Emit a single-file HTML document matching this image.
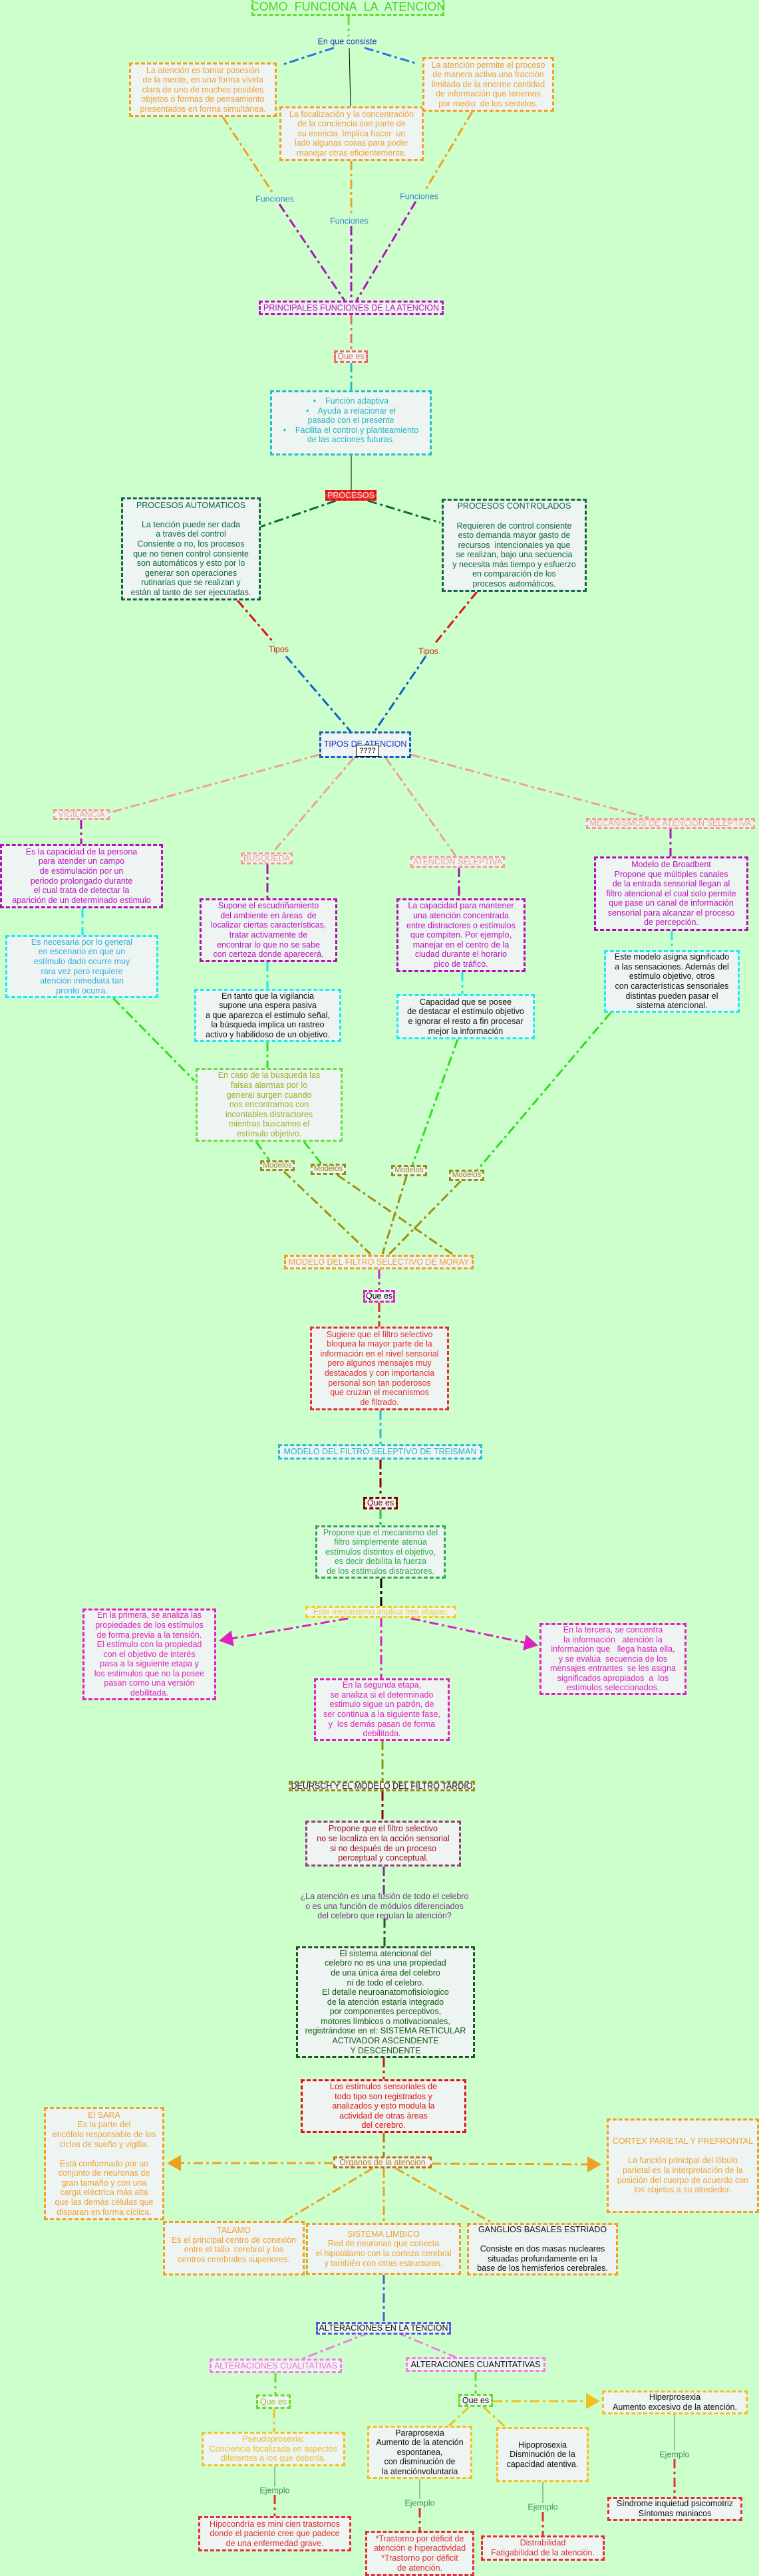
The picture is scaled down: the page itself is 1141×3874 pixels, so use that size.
<!DOCTYPE html>
<html><head><meta charset="utf-8">
<style>
html,body{margin:0;padding:0}
body{width:1141px;height:3874px;background:#ccffcc;position:relative;overflow:hidden;font-family:"Liberation Sans",sans-serif}
.n{position:absolute;box-sizing:border-box;border:3px dashed;background:#eef4f2;display:flex;align-items:center;justify-content:center;text-align:center;font-size:12.5px;line-height:14.6px;white-space:nowrap;overflow:visible}
.l{position:absolute;transform:translate(-50%,-50%);font-size:12.5px;line-height:14.6px;white-space:nowrap;text-align:center}
svg{position:absolute;left:0;top:0}
</style></head><body>
<svg width="1141" height="3874" viewBox="0 0 1141 3874">
<defs>
<marker id="am" markerWidth="8" markerHeight="8" refX="6" refY="4" orient="auto" markerUnits="strokeWidth"><path d="M0,0 L7,4 L0,8z" fill="#e020c0"/></marker>
<marker id="ao" markerWidth="8" markerHeight="8" refX="6" refY="4" orient="auto" markerUnits="strokeWidth"><path d="M0,0 L7,4 L0,8z" fill="#f0a020"/></marker>
<marker id="ay" markerWidth="8" markerHeight="8" refX="6" refY="4" orient="auto" markerUnits="strokeWidth"><path d="M0,0 L7,4 L0,8z" fill="#f0c020"/></marker>
</defs>
<g stroke-width="3" stroke-dasharray="14 5 4 5" fill="none">
<line x1="524" y1="24" x2="524" y2="55" stroke="#66dd33"/>
<line x1="502" y1="72" x2="422" y2="98" stroke="#3070e0"/>
<line x1="548" y1="72" x2="628" y2="96" stroke="#3070e0"/>
<line x1="335" y1="176" x2="412" y2="293" stroke="#f0a020"/>
<line x1="528" y1="242" x2="528" y2="325" stroke="#f0a020"/>
<line x1="710" y1="168" x2="638" y2="288" stroke="#f0a020"/>
<line x1="420" y1="307" x2="518" y2="452" stroke="#b010c0"/>
<line x1="528" y1="340" x2="528" y2="452" stroke="#b010c0"/>
<line x1="625" y1="303" x2="536" y2="452" stroke="#b010c0"/>
<line x1="528" y1="474" x2="528" y2="527" stroke="#e87060"/>
<line x1="528" y1="546" x2="528" y2="587" stroke="#20c0c0"/>
<line x1="505" y1="753" x2="392" y2="792" stroke="#0a6a3a"/>
<line x1="553" y1="753" x2="662" y2="786" stroke="#0a6a3a"/>
<line x1="357" y1="903" x2="412" y2="967" stroke="#e01010"/>
<line x1="717" y1="890" x2="652" y2="970" stroke="#e01010"/>
<line x1="430" y1="987" x2="527" y2="1100" stroke="#1060c0"/>
<line x1="640" y1="987" x2="563" y2="1100" stroke="#1060c0"/>
<line x1="480" y1="1135" x2="165" y2="1222" stroke="#f0a090"/>
<line x1="532" y1="1140" x2="410" y2="1282" stroke="#f0a090"/>
<line x1="580" y1="1140" x2="685" y2="1287" stroke="#f0a090"/>
<line x1="618" y1="1135" x2="975" y2="1230" stroke="#f0a090"/>
<line x1="122" y1="1233" x2="122" y2="1269" stroke="#b010b0"/>
<line x1="402" y1="1300" x2="402" y2="1351" stroke="#b010b0"/>
<line x1="690" y1="1305" x2="690" y2="1351" stroke="#b010b0"/>
<line x1="1008" y1="1247" x2="1008" y2="1288" stroke="#b010b0"/>
<line x1="124" y1="1366" x2="124" y2="1406" stroke="#20e8f0"/>
<line x1="402" y1="1447" x2="402" y2="1487" stroke="#20e8f0"/>
<line x1="695" y1="1462" x2="695" y2="1495" stroke="#20e8f0"/>
<line x1="1010" y1="1400" x2="1010" y2="1429" stroke="#20e8f0"/>
<line x1="170" y1="1501" x2="292" y2="1625" stroke="#30dd20"/>
<line x1="402" y1="1567" x2="402" y2="1606" stroke="#30dd20"/>
<line x1="688" y1="1563" x2="620" y2="1752" stroke="#30dd20"/>
<line x1="918" y1="1523" x2="718" y2="1759" stroke="#30dd20"/>
<line x1="385" y1="1717" x2="405" y2="1745" stroke="#30dd20"/>
<line x1="457" y1="1717" x2="483" y2="1750" stroke="#30dd20"/>
<line x1="427" y1="1762" x2="557" y2="1886" stroke="#a09010"/>
<line x1="507" y1="1767" x2="680" y2="1886" stroke="#a09010"/>
<line x1="611" y1="1769" x2="575" y2="1886" stroke="#a09010"/>
<line x1="693" y1="1776" x2="585" y2="1886" stroke="#a09010"/>
<line x1="570" y1="1909" x2="570" y2="1940" stroke="#e020c0"/>
<line x1="570" y1="1959" x2="570" y2="1995" stroke="#e03030"/>
<line x1="572" y1="2121" x2="572" y2="2172" stroke="#20c0d0"/>
<line x1="572" y1="2195" x2="572" y2="2251" stroke="#800000"/>
<line x1="572" y1="2270" x2="572" y2="2294" stroke="#20c040"/>
<line x1="573" y1="2374" x2="573" y2="2415" stroke="#000"/>
<line x1="573" y1="2433" x2="573" y2="2524" stroke="#e020c0"/>
<line x1="523" y1="2434" x2="332" y2="2467" stroke="#e020c0" marker-end="url(#am)"/>
<line x1="618" y1="2434" x2="806" y2="2474" stroke="#e020c0" marker-end="url(#am)"/>
<line x1="575" y1="2618" x2="575" y2="2678" stroke="#909010"/>
<line x1="575" y1="2694" x2="575" y2="2738" stroke="#900000"/>
<line x1="577" y1="2807" x2="577" y2="2850" stroke="#803090"/>
<line x1="578" y1="2885" x2="578" y2="2927" stroke="#106010"/>
<line x1="577" y1="3095" x2="577" y2="3127" stroke="#e01010"/>
<line x1="577" y1="3208" x2="577" y2="3243" stroke="#c07010"/>
<line x1="501" y1="3253" x2="254" y2="3253" stroke="#f0a020" marker-end="url(#ao)"/>
<line x1="649" y1="3254" x2="901" y2="3255" stroke="#f0a020" marker-end="url(#ao)"/>
<line x1="560" y1="3261" x2="428" y2="3340" stroke="#f0a020"/>
<line x1="577" y1="3261" x2="577" y2="3343" stroke="#f0a020"/>
<line x1="595" y1="3261" x2="740" y2="3343" stroke="#f0a020"/>
<line x1="577" y1="3421" x2="577" y2="3492" stroke="#5060d0"/>
<line x1="555" y1="3508" x2="455" y2="3547" stroke="#f080e0"/>
<line x1="597" y1="3508" x2="685" y2="3545" stroke="#f080e0"/>
<line x1="414" y1="3569" x2="414" y2="3601" stroke="#60e020"/>
<line x1="715" y1="3567" x2="715" y2="3600" stroke="#60e020"/>
<line x1="412" y1="3623" x2="412" y2="3657" stroke="#f0c020"/>
<line x1="705" y1="3620" x2="675" y2="3648" stroke="#f0c020"/>
<line x1="727" y1="3620" x2="760" y2="3650" stroke="#f0c020"/>
<line x1="741" y1="3611" x2="899" y2="3611" stroke="#f0c020" marker-end="url(#ay)"/>
<line x1="413" y1="3752" x2="413" y2="3784" stroke="#e03030"/>
<line x1="631" y1="3772" x2="631" y2="3806" stroke="#e03030"/>
<line x1="816" y1="3778" x2="816" y2="3813" stroke="#e03030"/>
<line x1="1014" y1="3698" x2="1014" y2="3755" stroke="#e03030"/>
</g>
<g stroke-width="1" fill="none">
<line x1="525" y1="72" x2="527" y2="160" stroke="#000"/>
<line x1="528" y1="685" x2="528" y2="737" stroke="#000"/>
<line x1="413" y1="3709" x2="413" y2="3740" stroke="#409060"/>
<line x1="631" y1="3728" x2="631" y2="3758" stroke="#409060"/>
<line x1="816" y1="3733" x2="816" y2="3764" stroke="#409060"/>
<line x1="1014" y1="3631" x2="1014" y2="3685" stroke="#409060"/>
</g>
</svg>

<div class="n" style="left:378px;top:-3px;width:290px;height:27px;border-color:#66dd33;color:#55cc33;font-size:18px;background:#ccffcc">COMO&nbsp; FUNCIONA&nbsp; LA&nbsp; ATENCION</div>
<div class="l" style="left:522px;top:63px;color:#1a3fbf">En que consiste</div>
<div class="n" style="left:194px;top:94px;width:222px;height:82px;border-color:#f0a020;color:#f0a030">La atención es tomar posesión<br>de la mente, en una forma vivida<br>clara de uno de muchos posibles<br>objetos o formas de pensamiento<br>presentados en forma simultánea.</div>
<div class="n" style="left:420px;top:160px;width:217px;height:82px;border-color:#f0a020;color:#f0a030">La focalización y la concentración<br>de la conciencia son parte de<br>su esencia. Implica hacer&nbsp; un<br>lado algunas cosas para poder<br>manejar otras eficientemente.</div>
<div class="n" style="left:635px;top:86px;width:198px;height:82px;border-color:#f0a020;color:#f0a030">La atención permite el proceso<br>de manera activa una fracción<br>limitada de la enorme cantidad<br>de información que tenemos<br>por medio&nbsp; de los sentidos.</div>
<div class="l" style="left:413px;top:300px;color:#3a7fd0">Funciones</div>
<div class="l" style="left:525px;top:333px;color:#3a7fd0">Funciones</div>
<div class="l" style="left:630px;top:296px;color:#3a7fd0">Funciones</div>

<div class="n" style="left:389px;top:452px;width:278px;height:22px;border-color:#c010c0;color:#c010c0">PRINCIPALES FUNCIONES DE LA ATENCION</div>
<div class="n" style="left:502px;top:527px;width:51px;height:19px;border-color:#e87060;color:#e87060">Que es</div>
<div class="n" style="left:406px;top:587px;width:243px;height:98px;border-color:#20c0c0;color:#20b8c0;align-items:flex-start;padding-top:6px">•&nbsp;&nbsp;&nbsp; Función adaptiva<br>•&nbsp;&nbsp;&nbsp; Ayuda a relacionar el<br>pasado con el presente<br>•&nbsp;&nbsp;&nbsp; Facilita el control y planteamiento<br>de las acciones futuras.</div>
<div class="n" style="left:489px;top:737px;width:77px;height:16px;border-color:#dd1111;background:#ee3333;color:#ffdddd">PROCESOS</div>
<div class="n" style="left:182px;top:748px;width:210px;height:155px;border-color:#0a6a3a;color:#0a6a3a">PROCESOS AUTOMATICOS<br><br>La tención puede ser dada<br>a través del control<br>Consiente o no, los procesos<br>que no tienen control consiente<br>son automáticos y esto por lo<br>generar son operaciones<br>rutinarias que se realizan y<br>están al tanto de ser ejecutadas.</div>
<div class="n" style="left:664px;top:750px;width:218px;height:140px;border-color:#0a6a3a;color:#0a6a3a">PROCESOS CONTROLADOS<br><br>Requieren de control consiente<br>esto demanda mayor gasto de<br>recursos&nbsp; intencionales ya que<br>se realizan, bajo una secuencia<br>y necesita más tiempo y esfuerzo<br>en comparación de los<br>procesos automáticos.</div>
<div class="l" style="left:419px;top:977px;color:#d02010">Tipos</div>
<div class="l" style="left:644px;top:980px;color:#d02010">Tipos</div>
<div class="n" style="left:480px;top:1100px;width:138px;height:40px;border-color:#1060c0;color:#2030d0;align-items:flex-start;padding-top:9px">TIPOS DE ATENCION</div>
<div class="n" style="left:535px;top:1120px;width:35px;height:18px;border:1px solid #000;background:#fff;color:#000;font-size:11px">????</div>

<div class="n" style="left:80px;top:1217px;width:85px;height:16px;border-color:#f0a090;color:#f0a090">VIGILANCIA</div>
<div class="n" style="left:362px;top:1282px;width:78px;height:18px;border-color:#f0a090;color:#f0a090">BUSQUEDA</div>
<div class="n" style="left:617px;top:1287px;width:142px;height:18px;border-color:#f0a090;color:#f0a090">ATENCION SELEPTIVA</div>
<div class="n" style="left:881px;top:1230px;width:254px;height:17px;border-color:#f0a090;color:#f0a090">MECANISMOS DE ATENCION SELEPTIVA</div>
<div class="n" style="left:0px;top:1269px;width:245px;height:97px;border-color:#b010b0;color:#c010c0">Es la capacidad de la persona<br>para atender un campo<br>de estimulación por un<br>periodo prolongado durante<br>el cual trata de detectar la<br>aparición de un determinado estimulo</div>
<div class="n" style="left:300px;top:1351px;width:207px;height:96px;border-color:#b010b0;color:#c010c0">Supone el escudriñamiento<br>del ambiente en áreas&nbsp; de<br>localizar ciertas características,<br>tratar activamente de<br>encontrar lo que no se sabe<br>con certeza donde aparecerá.</div>
<div class="n" style="left:596px;top:1351px;width:194px;height:111px;border-color:#b010b0;color:#c010c0">La capacidad para mantener<br>una atención concentrada<br>entre distractores o estímulos<br>que compiten. Por ejemplo,<br>manejar en el centro de la<br>ciudad durante el horario<br>pico de tráfico.</div>
<div class="n" style="left:893px;top:1288px;width:232px;height:112px;border-color:#b010b0;color:#c010c0">Modelo de Broadbent<br>Propone que múltiples canales<br>de la entrada sensorial llegan al<br>filtro atencional el cual solo permite<br>que pase un canal de información<br>sensorial para alcanzar el proceso<br>de percepción.</div>
<div class="n" style="left:8px;top:1406px;width:230px;height:95px;border-color:#20e8f0;color:#30b0e0">Es necesaria por lo general<br>en escenario en que un<br>estímulo dado ocurre muy<br>rara vez pero requiere<br>atención inmediata tan<br>pronto ocurra.</div>
<div class="n" style="left:292px;top:1487px;width:221px;height:80px;border-color:#20e8f0;color:#111">En tanto que la vigilancia<br>supone una espera pasiva<br>a que aparezca el estímulo señal,<br>la búsqueda implica un rastreo<br>activo y habilidoso de un objetivo.</div>
<div class="n" style="left:596px;top:1495px;width:208px;height:68px;border-color:#20e8f0;color:#111">Capacidad que se posee<br>de destacar el estímulo objetivo<br>e ignorar el resto a fin procesar<br>mejor la información</div>
<div class="n" style="left:908px;top:1429px;width:204px;height:94px;border-color:#20e8f0;color:#111">Este modelo asigna significado<br>a las sensaciones. Además del<br>estímulo objetivo, otros<br>con características sensoriales<br>distintas pueden pasar el<br>sistema atencional.</div>
<div class="n" style="left:294px;top:1606px;width:221px;height:111px;border-color:#66e040;color:#a0b020">En caso de la búsqueda las<br>falsas alarmas por lo<br>general surgen cuando<br>nos encontramos con<br>incontables distractores<br>mientras buscamos el<br>estímulo objetivo.</div>
<div class="n" style="left:391px;top:1745px;width:52px;height:16px;border-color:#909010;color:#909010;font-size:11.5px">Modelos</div>
<div class="n" style="left:467px;top:1750px;width:53px;height:17px;border-color:#909010;color:#909010;font-size:11.5px">Modelos</div>
<div class="n" style="left:588px;top:1752px;width:54px;height:17px;border-color:#909010;color:#909010;font-size:11.5px">Modelos</div>
<div class="n" style="left:675px;top:1759px;width:53px;height:17px;border-color:#909010;color:#909010;font-size:11.5px">Modelos</div>
<div class="n" style="left:427px;top:1887px;width:285px;height:22px;border-color:#f0a020;color:#f0a030">MODELO DEL FILTRO SELECTIVO DE MORAY</div>
<div class="n" style="left:546px;top:1940px;width:48px;height:19px;border-color:#e020c0;color:#000">Que es</div>
<div class="n" style="left:466px;top:1995px;width:209px;height:126px;border-color:#e03030;color:#e03030">Sugiere que el filtro selectivo<br>bloquea la mayor parte de la<br>información en el nivel sensorial<br>pero algunos mensajes muy<br>destacados y con importancia<br>personal son tan poderosos<br>que cruzan el mecanismos<br>de filtrado.</div>
<div class="n" style="left:418px;top:2172px;width:307px;height:23px;border-color:#20c0d0;color:#20b8c8">MODELO DEL FILTRO SELEPTIVO DE TREISMAN</div>
<div class="n" style="left:546px;top:2251px;width:52px;height:19px;border-color:#800000;color:#800000">Que es</div>
<div class="n" style="left:474px;top:2294px;width:196px;height:80px;border-color:#20b040;color:#20b040">Propone que el mecanismo del<br>filtro simplemente atenúa<br>estímulos distintos el objetivo,<br>es decir debilita la fuerza<br>de los estímulos distractores.</div>
<div class="n" style="left:459px;top:2415px;width:227px;height:18px;border-color:#f0d020;color:#e8d030">Este mecanismo implica tres etapas:</div>
<div class="n" style="left:124px;top:2419px;width:201px;height:138px;border-color:#e020c0;color:#e020c0">En la primera, se analiza las<br>propiedades de los estímulos<br>de forma previa a la tensión.<br>El estímulo con la propiedad<br>con el objetivo de interés<br>pasa a la siguiente etapa y<br>los estímulos que no la posee<br>pasan como una versión<br>debilitada.</div>
<div class="n" style="left:811px;top:2441px;width:221px;height:108px;border-color:#e020c0;color:#e020c0">En la tercera, se concentra<br>la información&nbsp;&nbsp; atención la<br>información que&nbsp;&nbsp; llega hasta ella,<br>y se evalúa&nbsp; secuencia de los<br>mensajes entrantes&nbsp; se les asigna<br>significados apropiados&nbsp; a&nbsp; los<br>estímulos seleccionados.</div>
<div class="n" style="left:472px;top:2524px;width:204px;height:94px;border-color:#e020c0;color:#e020c0">En la segunda etapa,<br>se analiza si el determinado<br>estimulo sigue un patrón, de<br>ser continua a la siguiente fase,<br>y&nbsp; los demás pasan de forma<br>debilitada.</div>
<div class="n" style="left:434px;top:2678px;width:280px;height:16px;border-color:#909010;color:#111">DEURSCH Y EL MODELO DEL FILTRO TARDIO</div>
<div class="n" style="left:459px;top:2738px;width:234px;height:69px;border-color:#904070;color:#a01020">Propone que el filtro selectivo<br>no se localiza en la acción sensorial<br>si no después de un proceso<br>perceptual y conceptual.</div>
<div class="l" style="left:578px;top:2867px;color:#803090">¿La atención es una fusión de todo el celebro<br>o es una función de módulos diferenciados<br>del celebro que regulan la atención?</div>
<div class="n" style="left:445px;top:2927px;width:269px;height:168px;border-color:#106010;color:#106010">El sistema atencional del<br>celebro no es una una propiedad<br>de una única área del celebro<br>ni de todo el celebro.<br>El detalle neuroanatomofisiologico<br>de la atención estaría integrado<br>por componentes perceptivos,<br>motores límbicos o motivacionales,<br>registrándose en el: SISTEMA RETICULAR<br>ACTIVADOR ASCENDENTE<br>Y DESCENDENTE</div>
<div class="n" style="left:452px;top:3127px;width:249px;height:81px;border-color:#e01010;color:#e01010">Los estímulos sensoriales de<br>todo tipo son registrados y<br>analizados y esto modula la<br>actividad de otras áreas<br>del cerebro.</div>
<div class="n" style="left:501px;top:3243px;width:148px;height:18px;border-color:#c07010;color:#c08020">Organos de la atencion</div>
<div class="n" style="left:66px;top:3169px;width:181px;height:170px;border-color:#f0a020;color:#f0a030">El SARA<br>Es la parte del<br>encéfalo responsable de los<br>ciclos de sueño y vigilia.<br><br>Está conformado por un<br>conjunto de neuronas de<br>gran tamaño y con una<br>carga eléctrica más alta<br>que las demás células que<br>disparan en forma cíclica.</div>
<div class="n" style="left:912px;top:3186px;width:229px;height:142px;border-color:#f0a020;color:#f0a030">CORTEX PARIETAL Y PREFRONTAL<br><br>La función principal del lóbulo<br>parietal es la interpretación de la<br>posición del cuerpo de acuerdo con<br>los objetos a su alrededor.</div>
<div class="n" style="left:245px;top:3340px;width:213px;height:82px;border-color:#f0a020;color:#f0a030;align-items:flex-start;padding-top:4px">TALAMO<br>Es el principal centro de conexión<br>entre el tallo&nbsp; cerebral y los<br>centros cerebrales superiores.</div>
<div class="n" style="left:460px;top:3343px;width:233px;height:78px;border-color:#f0a020;color:#f0a030">SISTEMA LIMBICO<br>Red de neuronas que conecta<br>el hipotálamo con la corteza cerebral<br>y también con otras estructuras.</div>
<div class="n" style="left:702px;top:3343px;width:227px;height:79px;border-color:#f0a020;color:#111">GANGLIOS BASALES ESTRIADO<br><br>Consiste en dos masas nucleares<br>situadas profundamente en la<br>base de los hemisferios cerebrales.</div>
<div class="n" style="left:475px;top:3492px;width:203px;height:19px;border-color:#5060d0;color:#111">ALTERACIONES EN LA TENCION</div>
<div class="n" style="left:315px;top:3547px;width:199px;height:22px;border-color:#f080e0;color:#f070e0">ALTERACIONES CUALITATIVAS</div>
<div class="n" style="left:610px;top:3545px;width:210px;height:22px;border-color:#f080e0;color:#111">ALTERACIONES CUANTITATIVAS</div>
<div class="n" style="left:385px;top:3601px;width:52px;height:22px;border-color:#60e020;color:#80d020">Que es</div>
<div class="n" style="left:689px;top:3600px;width:52px;height:20px;border-color:#60e020;color:#111">Que es</div>
<div class="n" style="left:303px;top:3657px;width:216px;height:52px;border-color:#f0c020;color:#e8c030">Pseudoprosexia:<br>Conciencia focalizada en aspectos<br>diferentes a los que debería.</div>
<div class="n" style="left:552px;top:3648px;width:158px;height:80px;border-color:#f0c020;color:#111">Paraprosexia<br>Aumento de la atención<br>espontanea,<br>con disminución de<br>la atenciónvoluntaria</div>
<div class="n" style="left:746px;top:3650px;width:139px;height:83px;border-color:#f0c020;color:#111">Hipoprosexia<br>Disminución de la<br>capacidad atentiva.</div>
<div class="n" style="left:905px;top:3595px;width:219px;height:36px;border-color:#f0c020;color:#111">Hiperprosexia<br>Aumento excesivo de la atención.</div>
<div class="l" style="left:413px;top:3746px;color:#409060">Ejemplo</div>
<div class="l" style="left:631px;top:3765px;color:#409060">Ejemplo</div>
<div class="l" style="left:816px;top:3771px;color:#409060">Ejemplo</div>
<div class="l" style="left:1014px;top:3692px;color:#409060">Ejemplo</div>
<div class="n" style="left:298px;top:3784px;width:230px;height:53px;border-color:#e03030;color:#e03030">Hipocondría es mini cien trastornos<br>donde el paciente cree que padece<br>de una enfermedad grave.</div>
<div class="n" style="left:549px;top:3806px;width:164px;height:68px;border-color:#e03030;color:#e03030">*Trastorno por déficit de<br>atención e hiperactividad<br>*Trastorno por déficit<br>de atención.</div>
<div class="n" style="left:723px;top:3813px;width:186px;height:38px;border-color:#e03030;color:#e03030">Distrabilidad<br>Fatigabilidad de la atención.</div>
<div class="n" style="left:913px;top:3755px;width:203px;height:36px;border-color:#e03030;color:#111">Síndrome inquietud psicomotriz<br>Síntomas maniacos</div>
</body></html>
